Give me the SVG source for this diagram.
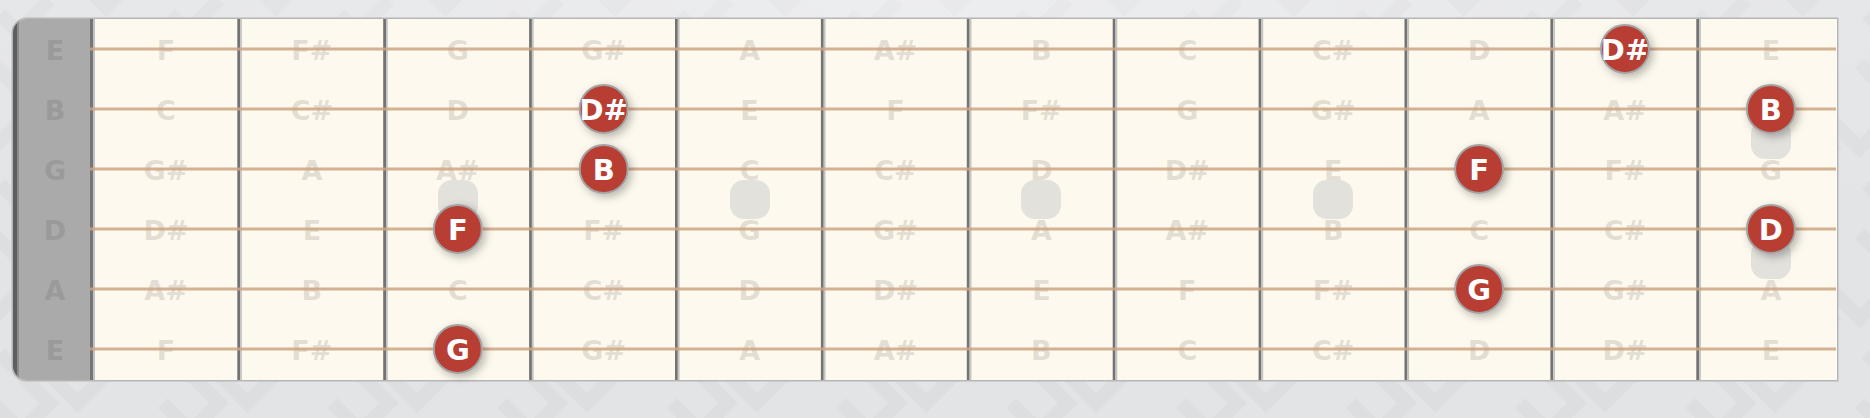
<svg xmlns="http://www.w3.org/2000/svg" width="1870" height="418" viewBox="0 0 1870 418">
<defs>
<style>
.lbl{font-family:"DejaVu Sans","Liberation Sans",sans-serif;font-weight:bold;font-size:27px;text-anchor:middle}
.note{fill:#bdb8ad;fill-opacity:0.42}
.open{fill:#9a9a9a}
.dot circle{fill:#b83d31;stroke:#a3a3a3;stroke-width:2}
.dot text{fill:#ffffff;font-size:29px}
.wd{fill:#737373}
.wl{fill:#c4c4c4}
.str{stroke:#cca581;stroke-width:2.8;stroke-opacity:0.85}
.mk{fill:#e3e1dc}
</style>
<pattern id="bgp" width="120" height="120" patternUnits="userSpaceOnUse" patternTransform="rotate(45)">
<rect width="120" height="120" fill="#e3e4e6"/>
<path d="M10 10 H80 V50 H40 M100 70 V110 H35 V85" fill="none" stroke="#dddee0" stroke-width="14"/>
</pattern>
<radialGradient id="glow" cx="0.5" cy="0" r="0.7">
<stop offset="0" stop-color="#ffffff" stop-opacity="0.35"/>
<stop offset="1" stop-color="#ffffff" stop-opacity="0"/>
</radialGradient>
<filter id="sh" x="-50%" y="-50%" width="200%" height="200%">
<feDropShadow dx="3" dy="3" stdDeviation="4" flood-color="#000" flood-opacity="0.28"/>
</filter>
<clipPath id="boardClip"><path d="M27 19 H1837 V380 H27 A14 14 0 0 1 13 366 V33 A14 14 0 0 1 27 19 Z"/></clipPath>
</defs>

<rect width="1870" height="418" fill="url(#bgp)"/>
<rect width="1870" height="418" fill="url(#glow)"/>

<g id="board">
<path d="M27 17.5 H1838.5 V381.5 H27 A15.5 15.5 0 0 1 11.5 366 V33 A15.5 15.5 0 0 1 27 17.5 Z" fill="#b6b6b6"/>
<g clip-path="url(#boardClip)">
<rect x="13" y="19" width="1824" height="361" fill="#fdf9ee"/>
<rect x="13" y="19" width="78" height="361" fill="#aaaaaa"/>
<rect x="13" y="19" width="4" height="361" fill="#5e5e5e"/>
<rect x="17" y="19" width="2" height="361" fill="#8a8a8a"/>
<rect x="90" y="19" width="3" height="361" fill="#757575"/>
<rect x="93" y="19" width="2" height="361" fill="#c2c2c2"/>
</g>
</g>

<g id="markers">
<rect class="mk" x="438" y="180" width="40" height="39" rx="14"/>
<rect class="mk" x="730" y="180" width="40" height="39" rx="14"/>
<rect class="mk" x="1021" y="180" width="40" height="39" rx="14"/>
<rect class="mk" x="1313" y="180" width="40" height="39" rx="14"/>
<rect class="mk" x="1751" y="120" width="40" height="39" rx="14"/>
<rect class="mk" x="1751" y="240" width="40" height="39" rx="14"/>
</g>

<g id="open-strings" class="lbl open">
<text x="55" y="59.5">E</text>
<text x="55" y="119.5">B</text>
<text x="55" y="179.5">G</text>
<text x="55" y="239.5">D</text>
<text x="55" y="299.5">A</text>
<text x="55" y="359.5">E</text>
</g>

<g id="note-labels" class="lbl note">
<g id="string1">
<text x="166" y="59.5">F</text><text x="311.9" y="59.5">F#</text><text x="457.8" y="59.5">G</text><text x="603.7" y="59.5">G#</text><text x="749.6" y="59.5">A</text><text x="895.5" y="59.5">A#</text><text x="1041.4" y="59.5">B</text><text x="1187.3" y="59.5">C</text><text x="1333.2" y="59.5">C#</text><text x="1479.1" y="59.5">D</text><text x="1770.9" y="59.5">E</text>
</g>
<g id="string2">
<text x="166" y="119.5">C</text><text x="311.9" y="119.5">C#</text><text x="457.8" y="119.5">D</text><text x="749.6" y="119.5">E</text><text x="895.5" y="119.5">F</text><text x="1041.4" y="119.5">F#</text><text x="1187.3" y="119.5">G</text><text x="1333.2" y="119.5">G#</text><text x="1479.1" y="119.5">A</text><text x="1625" y="119.5">A#</text>
</g>
<g id="string3">
<text x="166" y="179.5">G#</text><text x="311.9" y="179.5">A</text><text x="457.8" y="179.5">A#</text><text x="749.6" y="179.5">C</text><text x="895.5" y="179.5">C#</text><text x="1041.4" y="179.5">D</text><text x="1187.3" y="179.5">D#</text><text x="1333.2" y="179.5">E</text><text x="1625" y="179.5">F#</text><text x="1770.9" y="179.5">G</text>
</g>
<g id="string4">
<text x="166" y="239.5">D#</text><text x="311.9" y="239.5">E</text><text x="603.7" y="239.5">F#</text><text x="749.6" y="239.5">G</text><text x="895.5" y="239.5">G#</text><text x="1041.4" y="239.5">A</text><text x="1187.3" y="239.5">A#</text><text x="1333.2" y="239.5">B</text><text x="1479.1" y="239.5">C</text><text x="1625" y="239.5">C#</text>
</g>
<g id="string5">
<text x="166" y="299.5">A#</text><text x="311.9" y="299.5">B</text><text x="457.8" y="299.5">C</text><text x="603.7" y="299.5">C#</text><text x="749.6" y="299.5">D</text><text x="895.5" y="299.5">D#</text><text x="1041.4" y="299.5">E</text><text x="1187.3" y="299.5">F</text><text x="1333.2" y="299.5">F#</text><text x="1625" y="299.5">G#</text><text x="1770.9" y="299.5">A</text>
</g>
<g id="string6">
<text x="166" y="359.5">F</text><text x="311.9" y="359.5">F#</text><text x="603.7" y="359.5">G#</text><text x="749.6" y="359.5">A</text><text x="895.5" y="359.5">A#</text><text x="1041.4" y="359.5">B</text><text x="1187.3" y="359.5">C</text><text x="1333.2" y="359.5">C#</text><text x="1479.1" y="359.5">D</text><text x="1625" y="359.5">D#</text><text x="1770.9" y="359.5">E</text>
</g>
</g>

<g id="frets">
<rect class="wd" x="237.3" y="19" width="2.8" height="361"/><rect class="wl" x="240.1" y="19" width="1.8" height="361"/>
<rect class="wd" x="383.2" y="19" width="2.8" height="361"/><rect class="wl" x="386" y="19" width="1.8" height="361"/>
<rect class="wd" x="529.1" y="19" width="2.8" height="361"/><rect class="wl" x="531.9" y="19" width="1.8" height="361"/>
<rect class="wd" x="675" y="19" width="2.8" height="361"/><rect class="wl" x="677.8" y="19" width="1.8" height="361"/>
<rect class="wd" x="820.9" y="19" width="2.8" height="361"/><rect class="wl" x="823.7" y="19" width="1.8" height="361"/>
<rect class="wd" x="966.8" y="19" width="2.8" height="361"/><rect class="wl" x="969.6" y="19" width="1.8" height="361"/>
<rect class="wd" x="1112.7" y="19" width="2.8" height="361"/><rect class="wl" x="1115.5" y="19" width="1.8" height="361"/>
<rect class="wd" x="1258.6" y="19" width="2.8" height="361"/><rect class="wl" x="1261.4" y="19" width="1.8" height="361"/>
<rect class="wd" x="1404.5" y="19" width="2.8" height="361"/><rect class="wl" x="1407.3" y="19" width="1.8" height="361"/>
<rect class="wd" x="1550.4" y="19" width="2.8" height="361"/><rect class="wl" x="1553.2" y="19" width="1.8" height="361"/>
<rect class="wd" x="1696.3" y="19" width="2.8" height="361"/><rect class="wl" x="1699.1" y="19" width="1.8" height="361"/>
</g>

<g id="strings">
<line class="str" x1="90" y1="49" x2="1836" y2="49"/>
<line class="str" x1="90" y1="109" x2="1836" y2="109"/>
<line class="str" x1="90" y1="169" x2="1836" y2="169"/>
<line class="str" x1="90" y1="229" x2="1836" y2="229"/>
<line class="str" x1="90" y1="289" x2="1836" y2="289"/>
<line class="str" x1="90" y1="349" x2="1836" y2="349"/>
</g>

<g id="dots" class="lbl">
<g id="dot-e1-f11" class="dot"><circle cx="1625" cy="49" r="24" filter="url(#sh)"/><text x="1625" y="59.5">D#</text></g>
<g id="dot-b-f4" class="dot"><circle cx="603.7" cy="109" r="24" filter="url(#sh)"/><text x="603.7" y="119.5">D#</text></g>
<g id="dot-b-f12" class="dot"><circle cx="1770.9" cy="109" r="24" filter="url(#sh)"/><text x="1770.9" y="119.5">B</text></g>
<g id="dot-g-f4" class="dot"><circle cx="603.7" cy="169" r="24" filter="url(#sh)"/><text x="603.7" y="179.5">B</text></g>
<g id="dot-g-f10" class="dot"><circle cx="1479.1" cy="169" r="24" filter="url(#sh)"/><text x="1479.1" y="179.5">F</text></g>
<g id="dot-d-f3" class="dot"><circle cx="457.8" cy="229" r="24" filter="url(#sh)"/><text x="457.8" y="239.5">F</text></g>
<g id="dot-d-f12" class="dot"><circle cx="1770.9" cy="229" r="24" filter="url(#sh)"/><text x="1770.9" y="239.5">D</text></g>
<g id="dot-a-f10" class="dot"><circle cx="1479.1" cy="289" r="24" filter="url(#sh)"/><text x="1479.1" y="299.5">G</text></g>
<g id="dot-e6-f3" class="dot"><circle cx="457.8" cy="349" r="24" filter="url(#sh)"/><text x="457.8" y="359.5">G</text></g>
</g>
</svg>
